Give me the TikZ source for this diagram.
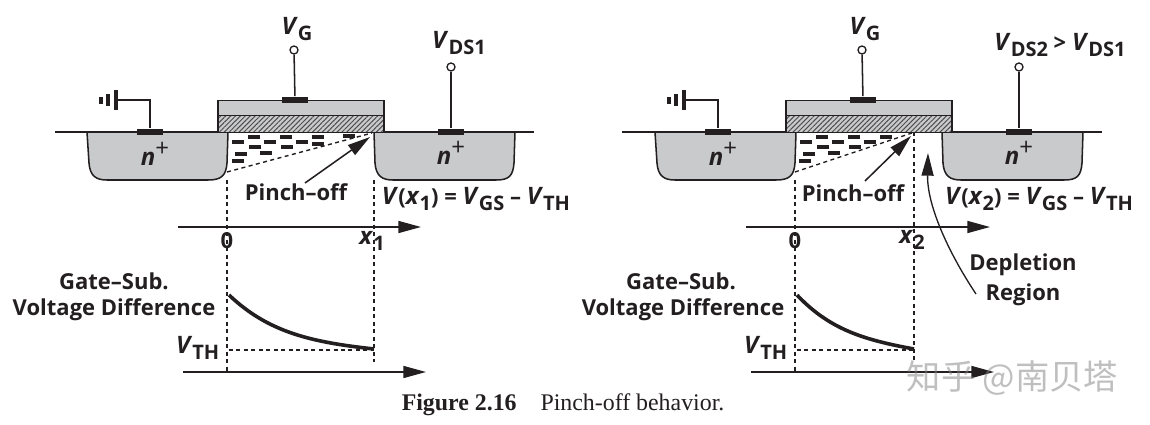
\documentclass[tikz,border=0pt]{standalone}
\usepackage{fontspec}
\setmainfont{Open Sans}
\newfontfamily\capfont{Liberation Serif}
\newfontfamily\cjkfont{Noto Sans CJK SC}
\usetikzlibrary{arrows.meta,positioning,patterns.meta}
\definecolor{ink}{HTML}{231F20}
\definecolor{wellgray}{HTML}{C9CACB}
\newcommand{\lowtxt}[1]{\raisebox{-.26em}{\fontsize{15}{15}\selectfont #1}}
\newcommand{\bigit}[1]{{\fontsize{18}{18}\selectfont\textit{#1}}}
\newcommand{\volt}{\bigit{V}}
\newcommand{\nplus}{\bigit{n}\raisebox{.42em}{\fontsize{18}{18}\selectfont\mdseries +}}

\begin{document}
\begin{tikzpicture}[x=.75pt,y=-.75pt,>={Triangle[length=17pt,width=9pt]},line width=1.15pt,color=ink]
\tikzstyle{every node}=[font=\fontsize{16.5}{18}\selectfont\bfseries,inner sep=0pt,text=ink]
\tikzstyle{well}=[draw,fill=wellgray]
\tikzstyle{gatebox}=[draw,fill=wellgray,minimum width=124.5pt,minimum height=11.5pt]
\tikzstyle{oxide}=[draw,preaction={fill=wellgray},pattern={Lines[angle=45,distance=2.6pt,line width=.75pt]},pattern color=ink!80,minimum width=124.5pt,minimum height=12.5pt]
\tikzstyle{contact}=[fill=ink,minimum width=19pt,minimum height=4.5pt]
\tikzstyle{pin}=[circle,draw,fill=white,line width=1pt,minimum size=6pt]
\tikzstyle{carrier}=[fill=ink,minimum width=8.5pt,minimum height=3.2pt]
\tikzstyle{guide}=[line width=1.05pt,dash pattern=on 3pt off 2.6pt]
\tikzstyle{vcurve}=[line width=2.7pt]
\useasboundingbox (0,0) rectangle (1150,425);

% left device
\draw[well] (87,132) -- (89,163) .. controls (90,176) and (96,180) .. (107,180) -- (208,180) .. controls (221,180) and (226,176) .. (227,163) -- (228,132);
\draw[well] (374,132) -- (375,163) .. controls (376,176) and (382,180) .. (393,180) -- (496,180) .. controls (509,180) and (513,176) .. (514,163) -- (515,132);
\coordinate (la) at (55,132);
\coordinate (lb) at (534,132);
\draw (la) -- (lb);
\node [gatebox] (g1) at (301,108) {};
\node [oxide] (ox1) at (301,124) {};
\node [contact] (cs1) at (150,132) {};
\node [contact] (cg1) at (295,100) {};
\node [contact] (cd1) at (451,132) {};
\node [pin] (pg1) at (294,50) {};
\node [pin] (pd1) at (451,67) {};
\draw (cg1) -- (pg1);
\draw (cd1) -- (pd1);
\node (vg1) at (297,29) {\volt\lowtxt{G}};
\node (vd1) at (459,43) {\volt\lowtxt{DS1}};
\node (ns1) at (155,154) {\nplus};
\node (nd1) at (451,153) {\nplus};
% ground
\coordinate (e1) at (116,100);
\draw (cs1) |- (e1);
\draw[line width=2.3pt] (116,90) -- (116,110);
\draw[line width=2.3pt] (108,94) -- (108,106);
\draw[line width=3.4pt] (101,97) -- (101,104);
% channel
\foreach \x/\y in {238/142,254/137,270/142,286/137,302/142,318/137,349/136,255/147,287/147,318/144,241/154,266/153,238/161}
  \node [carrier] at (\x,\y) {};
\coordinate (c1a) at (227,172);
\coordinate (c1b) at (372,133);
\draw[guide] (c1a) -- (c1b);
\node (po1) at (296,192) {Pinch--off};
\coordinate (t1) at (370,137);
\draw[->] (305,183) -- (t1);
\node (eq1) at (476,199) {\volt(\bigit{x}\lowtxt{1}) = \volt\lowtxt{GS} -- \volt\lowtxt{TH}};
% left axes
\coordinate (l0) at (227,180);
\coordinate (l1) at (227,372);
\coordinate (l2) at (374,180);
\coordinate (l3) at (374,362);
\draw[guide] (l0) -- (l1);
\draw[guide] (l2) -- (l3);
\coordinate (xa1) at (178,227);
\coordinate (xb1) at (421,227);
\draw[->] (xa1) -- (xb1);
\coordinate (ya1) at (183,372);
\coordinate (yb1) at (426,372);
\draw[->] (ya1) -- (yb1);
\node (z1) at (227,241) {0};
\node (x1) at (372,241) {\bigit{x}\lowtxt{1}};
\node (gs1) at (114,281) {Gate--Sub.};
\node (vdf1) at (114,310) {Voltage Difference};
\node (vt1) [anchor=east] at (220,348) {\volt\lowtxt{TH}};
\coordinate (th1a) at (229,350);
\coordinate (th1b) at (374,350);
\draw[guide] (th1a) -- (th1b);
\draw[vcurve] (229,295) .. controls (268,332) and (310,342) .. (374,349);

% right device
\draw[well] (655,132) -- (657,163) .. controls (658,176) and (664,180) .. (675,180) -- (776,180) .. controls (789,180) and (794,176) .. (795,163) -- (796,132);
\draw[well] (942,132) -- (943,163) .. controls (944,176) and (950,180) .. (961,180) -- (1064,180) .. controls (1077,180) and (1081,176) .. (1082,163) -- (1083,132);
\coordinate (ra) at (622,132);
\coordinate (rb) at (1102,132);
\draw (ra) -- (rb);
\node [gatebox] (g2) at (869,108) {};
\node [oxide] (ox2) at (869,124) {};
\node [contact] (cs2) at (718,132) {};
\node [contact] (cg2) at (863,100) {};
\node [contact] (cd2) at (1019,132) {};
\node [pin] (pg2) at (862,50) {};
\node [pin] (pd2) at (1019,67) {};
\draw (cg2) -- (pg2);
\draw (cd2) -- (pd2);
\node (vg2) at (865,29) {\volt\lowtxt{G}};
\node (vd2) at (1060,45) {\volt\lowtxt{DS2} > \volt\lowtxt{DS1}};
\node (ns2) at (723,154) {\nplus};
\node (nd2) at (1019,153) {\nplus};
% ground
\coordinate (e2) at (684,100);
\draw (cs2) |- (e2);
\draw[line width=2.3pt] (684,90) -- (684,110);
\draw[line width=2.3pt] (676,94) -- (676,106);
\draw[line width=3.4pt] (669,97) -- (669,104);
% channel
\foreach \x/\y in {806/142,822/137,838/142,854/137,870/142,886/137,823/147,855/147,809/154,834/153,805/161}
  \node [carrier] at (\x,\y) {};
\coordinate (c2a) at (795,172);
\coordinate (c2b) at (912,133);
\draw[guide] (c2a) -- (c2b);
\node (po2) at (853,193) {Pinch--off};
\coordinate (t2) at (911,136);
\draw[->] (865,181) -- (t2);
\node (eq2) at (1039,199) {\volt(\bigit{x}\lowtxt{2}) = \volt\lowtxt{GS} -- \volt\lowtxt{TH}};
% right axes
\coordinate (r0) at (795,180);
\coordinate (r1) at (795,372);
\coordinate (r2) at (914,132);
\coordinate (r3) at (914,362);
\draw[guide] (r0) -- (r1);
\draw[guide] (r2) -- (r3);
\coordinate (xa2) at (746,227);
\coordinate (xb2) at (990,227);
\draw[->] (xa2) -- (xb2);
\coordinate (ya2) at (751,372);
\coordinate (yb2) at (994,372);
\draw[->] (ya2) -- (yb2);
\node (z2) at (795,241) {0};
\node (x2) at (912,240) {\bigit{x}\lowtxt{2}};
\node (gs2) at (681,281) {Gate--Sub.};
\node (vdf2) at (683,310) {Voltage Difference};
\node (vt2) [anchor=east] at (788,348) {\volt\lowtxt{TH}};
\coordinate (th2a) at (797,350);
\coordinate (th2b) at (914,350);
\draw[guide] (th2a) -- (th2b);
\draw[vcurve] (797,295) .. controls (830,330) and (865,340) .. (914,349);
\node (dep) at (1023,265) {Depletion};
\node (reg) at (1023,295) {Region};
\coordinate (d0) at (976,294);
\coordinate (d1) at (928,153);
\draw[->,line width=1pt] (d0) .. controls (948,252) and (927,205) .. (d1);

\node (cap) [font=\fontsize{17.9}{19}\selectfont\capfont,anchor=west] at (401,405) {\textbf{Figure 2.16}\hspace{1em}\mdseries Pinch-off behavior.};
\node (mark) [font=\fontsize{25.7}{27}\selectfont\cjkfont\mdseries,text=gray,text opacity=.5,anchor=west] at (906,378) {知乎 @南贝塔};
\end{tikzpicture}
\end{document}
